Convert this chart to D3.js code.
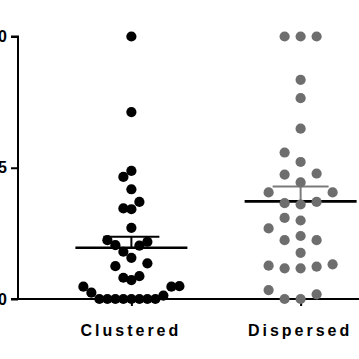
<!DOCTYPE html>
<html>
<head>
<meta charset="utf-8">
<script src="https://cdn.jsdelivr.net/npm/d3@7"></script>
<style>
  html, body { margin: 0; padding: 0; background: #fff; }
  svg { display: block; }
</style>
</head>
<body>
<svg id="chart" width="359" height="359"></svg>
<script>
// ---- data ----
const categories = ["Clustered", "Dispersed"];
const clusteredValues = [
  10, 7.12, 4.88, 4.65, 4.18, 3.70, 3.45, 3.42, 2.71, 2.24, 2.18, 2.05, 2.03,
  1.80, 1.57, 1.36, 1.25, 0.87, 0.81, 0.72, 0.49, 0.47, 0.47, 0.24, 0.13,
  0, 0, 0, 0, 0, 0, 0, 0
];
const dispersedValues = [
  10, 10, 10, 8.35, 7.65, 6.49, 5.58, 5.22, 4.78, 4.74, 4.44, 4.06, 4.06,
  3.70, 3.65, 3.60, 3.09, 2.99, 2.69, 2.40, 2.24, 2.24, 1.76, 1.32, 1.27,
  1.23, 1.17, 1.17, 0.34, 0.18, 0, 0
];
const meanValues = [1.95, 3.72];
const semValues = [0.42, 0.57];
const yTicks = [0, 5, 10];
const yTickLabels = ["0", "5", "10"];

// ---- layout ----
const svg = d3.select("#chart");
const plotLeft = 18, plotBottom = 299, plotTop = 36.5;
const x = d3.scalePoint().domain(categories).range([plotLeft, 414]).padding(0.67);
const y = d3.scaleLinear().domain([0, 10]).range([plotBottom, plotTop]);

const groups = [
  { name: categories[0], values: clusteredValues, color: "#000000", barColor: "#000000", step: 8, gap: 18 },
  { name: categories[1], values: dispersedValues, color: "#6e6e6e", barColor: "#7a7a7a", step: 16, gap: 14 }
];

function swarm(values, step, gap) {
  const order = d3.range(values.length).sort((a, b) => values[a] - values[b] || a - b);
  const placed = [];
  const offsets = new Array(values.length);
  for (const i of order) {
    const yi = y(values[i]);
    for (let k = 0; ; k++) {
      const slot = k === 0 ? 0 : (k % 2 === 1 ? -Math.ceil(k / 2) : Math.ceil(k / 2));
      if (!placed.some(p => p.slot === slot && Math.abs(p.y - yi) < gap)) {
        placed.push({ slot, y: yi });
        offsets[i] = slot * step;
        break;
      }
    }
  }
  return offsets;
}

// ---- axes ----
const yAxis = d3.axisLeft(y).tickValues(yTicks).tickSize(7).tickPadding(4)
  .tickFormat((d, i) => yTickLabels[i]);
const gy = svg.append("g").attr("transform", `translate(${plotLeft},0)`).call(yAxis);
gy.select(".domain").attr("stroke", "#000").attr("stroke-width", 2).attr("d", `M-7,${plotTop}H0V${plotBottom}H-7`);
gy.selectAll(".tick line").attr("stroke", "#000").attr("stroke-width", 2);
gy.selectAll(".tick text").attr("fill", "#000").style("font-family", "'Liberation Sans', Arial, sans-serif")
  .style("font-size", "16px").style("font-weight", "bold");

const xAxis = d3.axisBottom(x).tickSize(7).tickFormat("");
const gx = svg.append("g").attr("transform", `translate(0,${plotBottom})`).call(xAxis);
gx.select(".domain").attr("stroke", "#000").attr("stroke-width", 2).attr("d", `M${plotLeft},0H414`);
gx.selectAll(".tick line").attr("stroke", "#000").attr("stroke-width", 2);

const ls = 3;
svg.append("g").selectAll("text").data(categories).join("text")
  .attr("x", d => x(d) - 2 + ls / 2)
  .attr("y", 335.5)
  .attr("text-anchor", "middle")
  .style("font-family", "'Liberation Sans', Arial, sans-serif")
  .style("font-size", "16px")
  .style("font-weight", "bold")
  .style("letter-spacing", ls + "px")
  .attr("fill", "#000")
  .text(d => d);

// ---- mean & SEM ----
const meanHalf = 56, capHalf = 28;
groups.forEach((g, i) => {
  const cx = x(g.name);
  const m = y(meanValues[i]);
  const s = y(meanValues[i] + semValues[i]);
  svg.append("line").attr("x1", cx).attr("x2", cx).attr("y1", m).attr("y2", s)
    .attr("stroke", g.barColor).attr("stroke-width", 2);
  svg.append("line").attr("x1", cx - capHalf).attr("x2", cx + capHalf).attr("y1", s).attr("y2", s)
    .attr("stroke", g.barColor).attr("stroke-width", 2);
  svg.append("line").attr("x1", cx - meanHalf).attr("x2", cx + meanHalf).attr("y1", m).attr("y2", m)
    .attr("stroke", "#000").attr("stroke-width", 2.6);
});

// ---- dots ----
groups.forEach(g => {
  const offs = swarm(g.values, g.step, g.gap);
  svg.append("g").selectAll("circle").data(g.values).join("circle")
    .attr("cx", (d, i) => x(g.name) + offs[i])
    .attr("cy", d => y(d))
    .attr("r", 5.1)
    .attr("fill", g.color);
});
</script>
</body>
</html>
